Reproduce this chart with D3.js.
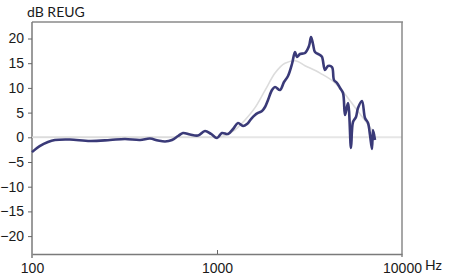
<!DOCTYPE html>
<html>
<head>
<meta charset="utf-8">
<script src="https://cdn.jsdelivr.net/npm/d3@7"></script>
<style>
  body { margin: 0; background: #fff; }
  svg { display: block; font-family: Lato, "Open Sans", sans-serif; }
</style>
</head>
<body>
<svg width="449" height="278"></svg>
<script>
// measured response (Hz, dB)
var freqs = [100,110,122,133,160,206,264,318,384,434,480,524,571,616,655,715,789,861,928,1000,
  1064,1147,1221,1299,1382,1453,1527,1605,1666,1751,1818,1887,1983,2059,2190,2302,2420,2543,2640,2706,
  2809,2990,3143,3222,3303,3386,3605,3695,3835,3981,4184,4290,4453,4623,4799,4920,5107,5300,5434,5640,
  5783,6077,6310,6550,6714,6883,6970,7145];
var gains = [-3.0,-1.8,-0.95,-0.55,-0.45,-0.75,-0.55,-0.35,-0.55,-0.25,-0.65,-0.85,-0.55,0.26,0.87,0.57,0.36,1.28,0.67,-0.14,
  0.87,0.67,1.68,2.89,2.29,2.69,3.7,4.51,4.92,5.32,6.13,7.55,9.57,10.18,9.57,11.19,12.41,14.84,17.27,16.26,
  16.86,17.07,18.48,20.3,18.89,17.27,16.66,16.26,13.63,14.44,14.23,11.6,11.0,9.98,8.97,4.51,6.94,-2.16,3.1,4.11,
  5.93,7.35,3.91,2.9,0.47,-2.37,1.48,-0.55];

// target curve
var targetFreqs = [100,1000,1105,1251,1417,1605,1818,2059,2331,2640,2990,3605,4343,5044,5712,6471,7145];
var targetGains = [0,0,0.3,1.5,3.5,6,9.5,13,15,15.5,14.5,13,11,8.2,5.5,2.9,0.5];

var yTicks = [-20,-15,-10,-5,0,5,10,15,20];
var xTicks = [100,1000,10000];

var svg = d3.select("svg");

var x = d3.scaleLog().domain([100, 10000]).range([32, 402]);
var y = d3.scaleLinear().domain([-20, 20]).range([236.1, 38.5]);

var h0 = y.invert(254), h1 = y.invert(22);

// zero reference line
svg.append("line")
  .attr("x1", x(100)).attr("x2", x(10000))
  .attr("y1", y(0)).attr("y2", y(0))
  .attr("stroke", "#e6e6e6").attr("stroke-width", 2);

// frame: top and right
svg.append("line")
  .attr("x1", 32).attr("x2", 403).attr("y1", y(h1)).attr("y2", y(h1))
  .attr("stroke", "#8a8a8a").attr("stroke-width", 1.5);
svg.append("line")
  .attr("x1", x(10000)).attr("x2", x(10000)).attr("y1", y(h1)).attr("y2", y(h0) + 3)
  .attr("stroke", "#8a8a8a").attr("stroke-width", 1.5);

// y axis
var yAxis = svg.append("g")
  .attr("transform", "translate(32,0)")
  .call(d3.axisLeft(y).tickValues(yTicks).tickSize(4).tickPadding(4));
yAxis.select(".domain").attr("d", "M0," + y(h1) + "V" + (y(h0) + 4)).attr("stroke", "#7a7a7a").attr("stroke-width", 1.5);
yAxis.selectAll(".tick line").attr("stroke", "#666");
yAxis.selectAll("text").attr("font-size", "14px").attr("fill", "#1a1a1a");

// x axis
var xAxis = svg.append("g")
  .attr("transform", "translate(0," + y(h0) + ")")
  .call(d3.axisBottom(x).tickValues(xTicks).tickFormat(d3.format("d")).tickSize(0).tickPadding(9));
xAxis.select(".domain").attr("stroke", "#7a7a7a").attr("stroke-width", 1.5);
xAxis.selectAll("text").attr("font-size", "14px").attr("fill", "#1a1a1a");
xAxis.selectAll(".tick").filter(function(d) { return d === 1000; })
  .append("line").attr("y1", 0).attr("y2", -4).attr("stroke", "#666");

svg.append("text")
  .attr("x", 425).attr("y", 270)
  .attr("font-size", "14px").attr("fill", "#1a1a1a")
  .text("Hz");

svg.append("text")
  .attr("x", 27).attr("y", 17)
  .attr("font-size", "14px").attr("fill", "#1a1a1a")
  .text("dB REUG");

// curves
var line = d3.line()
  .x(function(d) { return x(d[0]); })
  .y(function(d) { return y(d[1]); });

svg.append("path")
  .datum(d3.zip(targetFreqs, targetGains))
  .attr("d", line.curve(d3.curveMonotoneX))
  .attr("fill", "none")
  .attr("stroke", "#dcdcdc")
  .attr("stroke-width", 1.6);

svg.append("path")
  .datum(d3.zip(freqs, gains))
  .attr("d", line.curve(d3.curveCatmullRom.alpha(0.5)))
  .attr("fill", "none")
  .attr("stroke", "#3a3a78")
  .attr("stroke-width", 2.6)
  .attr("stroke-linejoin", "round");
</script>
</body>
</html>
